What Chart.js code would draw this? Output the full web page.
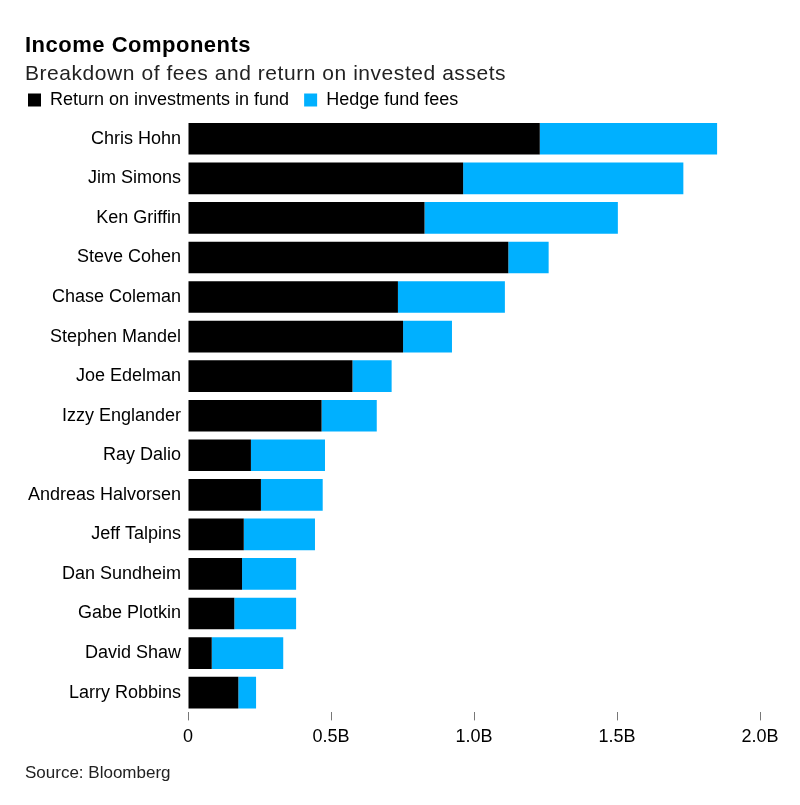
<!DOCTYPE html>
<html>
<head>
<meta charset="utf-8">
<script src="https://cdn.jsdelivr.net/npm/chart.js@4"></script>
<style>
  html, body { margin: 0; padding: 0; background: #fff; }
  #wrap { position: relative; width: 800px; height: 805px; overflow: hidden; font-family: "Liberation Sans", Arial, sans-serif; color: #000; }
  #wrap canvas { position: absolute; left: 0; top: 0; }
  .txt { position: absolute; left: 25px; white-space: nowrap; }
  #title { top: 30px; height: 30px; line-height: 30px; font-size: 22px; font-weight: bold; letter-spacing: 0.5px; }
  #subtitle { top: 58px; height: 30px; line-height: 30px; font-size: 21px; color: #222; letter-spacing: 0.55px; }
  #source { top: 763px; height: 20px; line-height: 20px; font-size: 17px; color: #222; }
</style>
</head>
<body>
<div id="wrap">
  <canvas id="c" width="800" height="805"></canvas>
  <div class="txt" id="title">Income Components</div>
  <div class="txt" id="subtitle">Breakdown of fees and return on invested assets</div>
  <div class="txt" id="source">Source: Bloomberg</div>
</div>
<script>
const managers = ["Chris Hohn","Jim Simons","Ken Griffin","Steve Cohen","Chase Coleman","Stephen Mandel","Joe Edelman","Izzy Englander","Ray Dalio","Andreas Halvorsen","Jeff Talpins","Dan Sundheim","Gabe Plotkin","David Shaw","Larry Robbins"];
const investmentReturns = [1.23, 0.962, 0.827, 1.12, 0.734, 0.752, 0.575, 0.467, 0.22, 0.255, 0.195, 0.189, 0.162, 0.083, 0.176];
const hedgeFundFees = [0.62, 0.77, 0.676, 0.141, 0.374, 0.171, 0.137, 0.193, 0.259, 0.216, 0.249, 0.189, 0.216, 0.25, 0.062];
const xTicks = [0, 0.5, 1.0, 1.5, 2.0];
const xTickLabels = ["0", "0.5B", "1.0B", "1.5B", "2.0B"];
const seriesNames = ["Return on investments in fund", "Hedge fund fees"];

const FONT = "'Liberation Sans', Arial, sans-serif";

new Chart(document.getElementById('c'), {
  type: 'bar',
  data: {
    labels: managers,
    datasets: [
      { label: seriesNames[0], data: investmentReturns, backgroundColor: '#000000', borderWidth: 0, categoryPercentage: 1, barPercentage: 0.8 },
      { label: seriesNames[1], data: hedgeFundFees, backgroundColor: '#00b0ff', borderWidth: 0, categoryPercentage: 1, barPercentage: 0.8 }
    ]
  },
  options: {
    indexAxis: 'y',
    responsive: false,
    animation: false,
    devicePixelRatio: 1,
    layout: { padding: { left: 13, right: 40, top: 76, bottom: 51 } },
    plugins: {
      legend: {
        display: true,
        position: 'top',
        align: 'start',
        labels: { boxWidth: 13, boxHeight: 13, padding: 15, color: '#000', font: { family: FONT, size: 18 } }
      },
      title: { display: false },
      tooltip: { enabled: false }
    },
    scales: {
      x: {
        stacked: true,
        min: 0, max: 2.0,
        afterBuildTicks: (axis) => { axis.ticks = xTicks.map(v => ({ value: v })); },
        ticks: {
          padding: 6,
          color: '#000',
          font: { family: FONT, size: 18 },
          maxRotation: 0,
          callback: (v) => { const i = xTicks.indexOf(v); return i >= 0 ? xTickLabels[i] : ''; }
        },
        grid: { display: true, drawOnChartArea: false, drawTicks: true, tickLength: 8, color: '#777', lineWidth: 1 },
        border: { display: false }
      },
      y: {
        stacked: true,
        afterFit: (scale) => { scale.width = 175; },
        ticks: { padding: 7, color: '#000', font: { family: FONT, size: 18 } },
        grid: { display: false, drawTicks: false },
        border: { display: false }
      }
    }
  }
});
</script>
</body>
</html>
